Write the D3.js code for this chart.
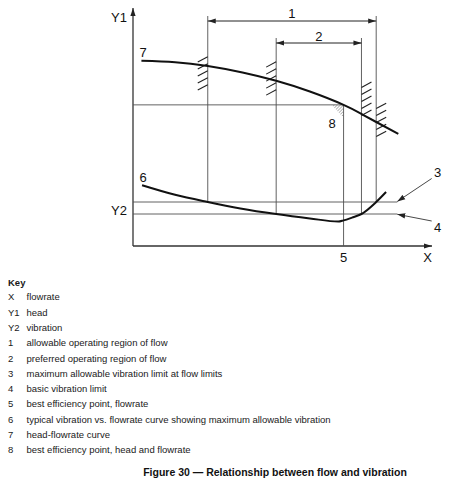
<!DOCTYPE html>
<html><head><meta charset="utf-8">
<script src="https://cdn.jsdelivr.net/npm/d3@7"></script>
<style>
html,body{margin:0;padding:0;background:#fff;}
svg{display:block;font-family:"Liberation Sans",Arial,sans-serif;}
</style>
</head><body>
<svg id="c" width="474" height="484"></svg>
<script>
// ---------- data ----------
// flowrate as % of best-efficiency flow
const headFlow   = [4, 20, 35.5, 52, 68, 84, 100, 108.5, 115.5, 126];
const headValues = [77.8, 77.2, 75.6, 72.9, 69.4, 64.9, 59.3, 55.5, 52.1, 47.1];

const vibFlow   = [4.3, 20, 35.5, 51, 68, 84, 97.5, 100, 104, 108.5, 115.5, 120.2];
const vibValues = [7.6, 6.4, 5.5, 4.7, 4.0, 3.45, 3.05, 3.2, 3.55, 4.0, 5.5, 6.75];

const allowableRegion = [35.5, 115.5];   // key 1
const preferredRegion = [68, 108.5];     // key 2
const maxVibLimit = 5.5;                 // key 3
const basicVibLimit = 4.0;               // key 4
const bepFlow = 100;                     // key 5
const bepHead = 59.3;                    // key 8
const limitLineEnd = 125.5;

const keyCodes = ["X", "Y1", "Y2", "1", "2", "3", "4", "5", "6", "7", "8"];
const keyTexts = [
  "flowrate",
  "head",
  "vibration",
  "allowable operating region of flow",
  "preferred operating region of flow",
  "maximum allowable vibration limit at flow limits",
  "basic vibration limit",
  "best efficiency point, flowrate",
  "typical vibration vs. flowrate curve showing maximum allowable vibration",
  "head-flowrate curve",
  "best efficiency point, head and flowrate"
];
const captionText = "Figure 30 \u2014 Relationship between flow and vibration";

// ---------- scales ----------
const x = d3.scaleLinear().domain([0, 142]).range([133, 432]);
const yHead = d3.scaleLinear().domain([0, 100]).range([246, 8]);
const yVib = d3.scaleLinear().domain([0, 10]).range([246, 166]);

const svg = d3.select("#c");
const thin = "#505050", ink = "#111";

// markers
const defs = svg.append("defs");
defs.append("marker").attr("id", "ah").attr("viewBox", "0 -3 8 6")
  .attr("refX", 8).attr("refY", 0).attr("markerWidth", 8).attr("markerHeight", 6)
  .attr("markerUnits", "userSpaceOnUse").attr("orient", "auto")
  .append("path").attr("d", "M0,-2.6L8,0L0,2.6Z").attr("fill", "#222");
defs.append("marker").attr("id", "ahs").attr("viewBox", "0 -3 8 6")
  .attr("refX", 8).attr("refY", 0).attr("markerWidth", 8).attr("markerHeight", 6)
  .attr("markerUnits", "userSpaceOnUse").attr("orient", "auto-start-reverse")
  .append("path").attr("d", "M0,-2.6L8,0L0,2.6Z").attr("fill", "#222");
const pat = defs.append("pattern").attr("id", "hatch").attr("patternUnits", "userSpaceOnUse")
  .attr("width", 2.2).attr("height", 2.2).attr("patternTransform", "rotate(45)");
pat.append("line").attr("x1", 0).attr("y1", 0).attr("x2", 0).attr("y2", 2.2)
  .attr("stroke", "#777").attr("stroke-width", 1);

// ---------- axes ----------
const xAxis = svg.append("g").attr("transform", `translate(0,${yHead(0)})`)
  .call(d3.axisBottom(x).ticks(0).tickSizeOuter(0));
xAxis.select(".domain").attr("stroke", "#333").attr("stroke-width", 1.3)
  .attr("marker-end", "url(#ah)");
const yAxis = svg.append("g").attr("transform", `translate(${x(0)},0)`)
  .call(d3.axisLeft(yHead).ticks(0).tickSizeOuter(0));
yAxis.select(".domain").attr("stroke", "#333").attr("stroke-width", 1.3)
  .attr("marker-end", "url(#ah)");
// orient domain paths so the arrow points outward
xAxis.select(".domain").attr("d", `M${x(0)},0H${x(142)}`);
yAxis.select(".domain").attr("d", `M0,${yHead(0)}V${yHead(100)}`);

// ---------- thin construction lines ----------
const g = svg.append("g").attr("stroke", thin).attr("stroke-width", 0.9).attr("fill", "none");
[maxVibLimit, basicVibLimit].forEach(v => {
  g.append("line").attr("x1", x(0)).attr("x2", x(limitLineEnd))
    .attr("y1", yVib(v)).attr("y2", yVib(v));
});
g.append("line").attr("x1", x(0)).attr("x2", x(bepFlow))
  .attr("y1", yHead(bepHead)).attr("y2", yHead(bepHead));
g.append("line").attr("x1", x(bepFlow)).attr("x2", x(bepFlow))
  .attr("y1", yHead(bepHead)).attr("y2", yHead(0));
const dim1Y = 21, dim2Y = 43;
allowableRegion.forEach(f => {
  g.append("line").attr("x1", x(f)).attr("x2", x(f)).attr("y1", dim1Y - 5).attr("y2", yVib(maxVibLimit));
});
preferredRegion.forEach(f => {
  g.append("line").attr("x1", x(f)).attr("x2", x(f)).attr("y1", dim2Y - 5).attr("y2", yVib(basicVibLimit));
});
[[allowableRegion, dim1Y], [preferredRegion, dim2Y]].forEach(([r, yy]) => {
  svg.append("line").attr("x1", x(r[0])).attr("x2", x(r[1])).attr("y1", yy).attr("y2", yy)
    .attr("stroke", "#222").attr("stroke-width", 1)
    .attr("marker-start", "url(#ahs)").attr("marker-end", "url(#ah)");
});

// ---------- hatches at flow limits ----------
const headAt = d3.scaleLinear().domain(headFlow).range(headValues);
const hatchSpec = [
  {f: allowableRegion[0], side: -1, shift: 4.6},
  {f: preferredRegion[0], side: -1, shift: -5},
  {f: preferredRegion[1], side: 1, shift: -12.5},
  {f: allowableRegion[1], side: 1, shift: 0.5}
];
const hg = svg.append("g").attr("stroke", "#222").attr("stroke-width", 1.1);
hatchSpec.forEach(h => {
  const cx = x(h.f), cy = yHead(headAt(h.f)) + h.shift;
  for (let i = -2; i <= 2; i++) {
    const yy = cy + i * 7;
    hg.append("line").attr("x1", cx).attr("y1", yy)
      .attr("x2", cx + h.side * 10).attr("y2", yy - h.side * 5.3);
  }
});

// BEP hatched corner
const bx = x(bepFlow), by = yHead(bepHead);
svg.append("path").attr("d", `M${bx - 12},${by}L${bx},${by}L${bx},${by + 13}Z`)
  .attr("fill", "url(#hatch)");

// ---------- curves ----------
const headLine = d3.line().x((d, i) => x(headFlow[i])).y(d => yHead(d)).curve(d3.curveNatural);
svg.append("path").attr("d", headLine(headValues))
  .attr("fill", "none").attr("stroke", ink).attr("stroke-width", 2);
const vibLine = d3.line().x((d, i) => x(vibFlow[i])).y(d => yVib(d)).curve(d3.curveMonotoneX);
svg.append("path").attr("d", vibLine(vibValues))
  .attr("fill", "none").attr("stroke", ink).attr("stroke-width", 2);

// leader arrows 3 and 4
svg.append("line").attr("x1", 431.7).attr("y1", 178.5).attr("x2", x(limitLineEnd)).attr("y2", yVib(maxVibLimit) - 0.5)
  .attr("stroke", "#333").attr("stroke-width", 0.9).attr("marker-end", "url(#ah)");
svg.append("line").attr("x1", 431.7).attr("y1", 221).attr("x2", x(limitLineEnd)).attr("y2", yVib(basicVibLimit) + 0.3)
  .attr("stroke", "#333").attr("stroke-width", 0.9).attr("marker-end", "url(#ah)");

// ---------- chart labels ----------
const lab = svg.append("g").attr("font-size", 13).attr("fill", "#111");
function t(txt, xx, yy, anchor) {
  lab.append("text").attr("x", xx).attr("y", yy).attr("text-anchor", anchor || "middle").text(txt);
}
t("Y1", 127, 22, "end");
t("Y2", 127, 215, "end");
t("X", 427.5, 262);
t("5", x(bepFlow), 262);
t("1", (x(allowableRegion[0]) + x(allowableRegion[1])) / 2, 17.5);
t("2", (x(preferredRegion[0]) + x(preferredRegion[1])) / 2, 41);
t("7", 143, 57);
t("6", 143, 182);
t("8", 332, 127.5);
t("3", 437.5, 177);
t("4", 437.5, 232);

// ---------- key ----------
const key = svg.append("g").attr("font-size", 9.5).attr("fill", "#1a1a1a");
key.append("text").attr("x", 8).attr("y", 285.5).attr("font-weight", "bold").text("Key");
keyCodes.forEach((c, i) => {
  const yy = 300.3 + i * 15.3;
  key.append("text").attr("x", 8).attr("y", yy).text(c);
  key.append("text").attr("x", 26.5).attr("y", yy).text(keyTexts[i]);
});
svg.append("text").attr("x", 275).attr("y", 475.5).attr("text-anchor", "middle")
  .attr("font-size", 10.5).attr("font-weight", "bold").attr("fill", "#111").text(captionText);
</script>
</body></html>
